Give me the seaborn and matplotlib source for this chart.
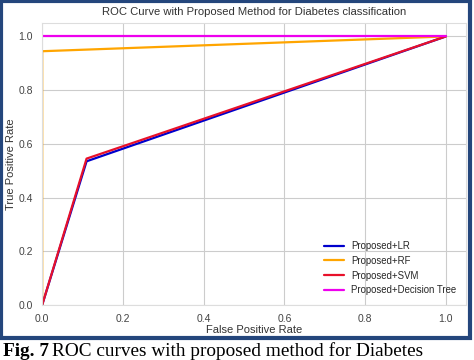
import numpy as np
import pandas as pd
import matplotlib
matplotlib.use("Agg")
import matplotlib.pyplot as plt
import seaborn as sns
from matplotlib.patches import Rectangle

# ROC points
fpr_lr = [0.0, 0.11, 1.0]
tpr_lr = [0.0, 0.535, 1.0]
fpr_rf = [0.0, 0.0, 1.0]
tpr_rf = [0.0, 0.945, 1.0]
fpr_svm = [0.0, 0.11, 1.0]
tpr_svm = [0.0, 0.545, 1.0]
fpr_dt = [0.0, 1.0]
tpr_dt = [1.0, 1.0]

modeles = ["Proposed+LR", "Proposed+RF", "Proposed+SVM", "Proposed+Decision Tree"]
couleurs = ["#0000cc", "#ffa500", "#e8102a", "#ee00ee"]

frames = []
for nom, x, y in zip(modeles, [fpr_lr, fpr_rf, fpr_svm, fpr_dt], [tpr_lr, tpr_rf, tpr_svm, tpr_dt]):
    frames.append(pd.DataFrame({"fpr": x, "tpr": y, "Modele": nom}))
df = pd.concat(frames, ignore_index=True)

sns.set_style("whitegrid")
plt.rcParams["font.family"] = ["Liberation Sans", "DejaVu Sans"]

fig = plt.figure(figsize=(4.74, 3.60), dpi=100)
ax = fig.add_axes([0.089, 0.153, 0.894, 0.783])

sns.lineplot(data=df, x="fpr", y="tpr", hue="Modele", palette=couleurs,
             sort=False, estimator=None, linewidth=1.6, ax=ax)

ax.set_xlim(0, 1.05)
ax.set_ylim(0, 1.05)
ax.set_xticks(np.arange(0, 1.01, 0.2))
ax.set_yticks(np.arange(0, 1.01, 0.2))
ax.tick_params(labelsize=7.5, colors="#444444", pad=3)
ax.set_xlabel("False Positive Rate", fontsize=8, color="#333333", labelpad=1)
ax.set_ylabel("True Positive Rate", fontsize=8, color="#333333", labelpad=2)
ax.set_title("ROC Curve with Proposed Method for Diabetes classification",
             fontsize=8.1, color="#333333", pad=6)
for s in ax.spines.values():
    s.set_color("#dddddd")

ax.legend(loc="lower right", frameon=False, fontsize=6.9, handlelength=2.0,
          labelspacing=0.5, borderaxespad=0.6)

# cadre bleu autour de la figure
fig.patches.append(Rectangle((0.003, 0.060), 0.988, 0.936, transform=fig.transFigure,
                             fill=False, edgecolor="#24467c", linewidth=3))

t1 = fig.text(0.006, 0.012, "Fig. 7", fontsize=13.9, family="Liberation Serif",
              weight="bold", color="black")
fig.canvas.draw()
bb = t1.get_window_extent().transformed(fig.transFigure.inverted())
fig.text(bb.x1 + 0.006, 0.012, "ROC curves with proposed method for Diabetes",
         fontsize=13.9, family="Liberation Serif", color="black")

fig.savefig("out.png", dpi=100)
